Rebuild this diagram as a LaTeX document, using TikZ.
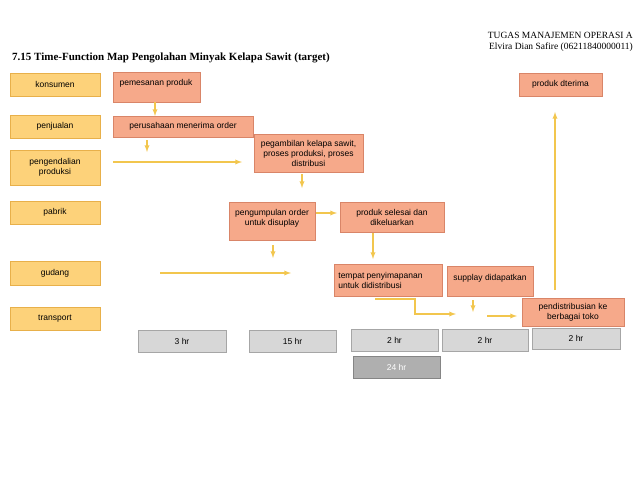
\documentclass[tikz,border=0pt]{standalone}
\usepackage{fontspec}
\setmainfont{Liberation Serif}
\newfontfamily\sans{Liberation Sans}
\definecolor{lab}{HTML}{FDD27A}
\definecolor{labd}{HTML}{E8B04A}
\definecolor{org}{HTML}{F6A98A}
\definecolor{orgd}{HTML}{D98568}
\definecolor{gr}{HTML}{D7D7D7}
\definecolor{grd}{HTML}{A6A6A6}
\definecolor{ar}{HTML}{F2C64E}
\begin{document}
\begin{tikzpicture}[x=1pt,y=-1pt,
  lane/.style={fill=lab,draw=labd,line width=0.8pt,font=\sans\fontsize{8.5}{10}\selectfont,align=center},
  act/.style={fill=org,draw=orgd,line width=0.8pt,font=\sans\fontsize{8.5}{10}\selectfont,align=center},
  tim/.style={fill=gr,draw=grd,line width=0.8pt,font=\sans\fontsize{8.5}{10}\selectfont},
  arr/.style={draw=ar,line width=1.3pt,-latex}]
\useasboundingbox (0,0) rectangle (638,493);
\node[font=\fontsize{9.5}{11.5}\selectfont,align=right,anchor=north east,inner sep=0pt] (hd) at (633,32) {TUGAS MANAJEMEN OPERASI A\\Elvira Dian Safire (06211840000011)};
\node[font=\bfseries\fontsize{11}{12}\selectfont,anchor=west,inner sep=0pt] (tt) at (12,58) {7.15 Time-Function Map Pengolahan Minyak Kelapa Sawit (target)};
% lanes
\draw[lane] (10,73) rectangle (100,96) node[midway] (l1) {konsumen};
\draw[lane] (10,115) rectangle (100,138) node[midway] (l2) {penjualan};
\draw[lane] (10,150) rectangle (100,185) node[midway] (l3) {pengendalian\\produksi};
\draw[lane] (10,201) rectangle (100,224) node[midway] (l4) {pabrik};
\draw[lane] (10,261) rectangle (100,285) node[midway] (l5) {gudang};
\draw[lane] (10,307) rectangle (100,330) node[midway] (l6) {transport};
% activities
\draw[act] (113,72) rectangle (200,102);
\node[font=\sans\fontsize{8.5}{10}\selectfont] (a1) at (156,83) {pemesanan produk};
\draw[act] (113,116) rectangle (253,137) node[midway] (a2) {perusahaan menerima order};
\draw[act] (254,134) rectangle (363,172) node[midway] (a3) {pegambilan kelapa sawit,\\proses produksi, proses\\distribusi};
\draw[act] (229,202) rectangle (315,240);
\node[act,draw=none,fill=none] (a4) at (272,218) {pengumpulan order\\untuk disuplay};
\draw[act] (340,202) rectangle (444,232) node[midway] (a5) {produk selesai dan\\dikeluarkan};
\draw[act] (334,264) rectangle (442,296);
\node[act,draw=none,fill=none,align=left,anchor=west,inner sep=1pt] (a6) at (337,280) {tempat penyimapanan\\untuk didistribusi};
\draw[act] (447,266) rectangle (533,296);
\node[font=\sans\fontsize{8.5}{10}\selectfont] (a7) at (490,278) {supplay didapatkan};
\draw[act] (522,298) rectangle (624,326) node[midway] (a8) {pendistribusian ke\\berbagai toko};
\draw[act] (519,73) rectangle (602,96) node[midway] (a9) {produk dterima};
% times
\draw[tim] (138,330) rectangle (226,352) node[midway] (t1) {3 hr};
\draw[tim] (249,330) rectangle (336,352) node[midway] (t2) {15 hr};
\draw[tim] (351,329) rectangle (438,351) node[midway] (t3) {2 hr};
\draw[tim] (442,329) rectangle (528,351) node[midway] (t4) {2 hr};
\draw[tim] (532,328) rectangle (620,349) node[midway] (t5) {2 hr};
\draw[tim,fill=grd!90,draw=grd!80!black] (353,356) rectangle (440,378) node[midway,text=white] (t6) {24 hr};
% arrows
\draw[arr] (147,140) -- (147,152);
\draw[arr] (155,102) -- (155,116);
\draw[arr] (113,162) -- (242,162);
\draw[arr] (302,174) -- (302,188);
\draw[arr] (316,213) -- (337,213);
\draw[arr] (273,245) -- (273,258);
\draw[arr] (160,273) -- (291,273);
\draw[arr] (373,233) -- (373,259);
\draw[arr] (375,299) -- (415,299) -- (415,314) -- (456,314);
\draw[arr] (473,300) -- (473,312);
\draw[arr] (487,316) -- (517,316);
\draw[arr] (555,290) -- (555,112);
\end{tikzpicture}
\end{document}
